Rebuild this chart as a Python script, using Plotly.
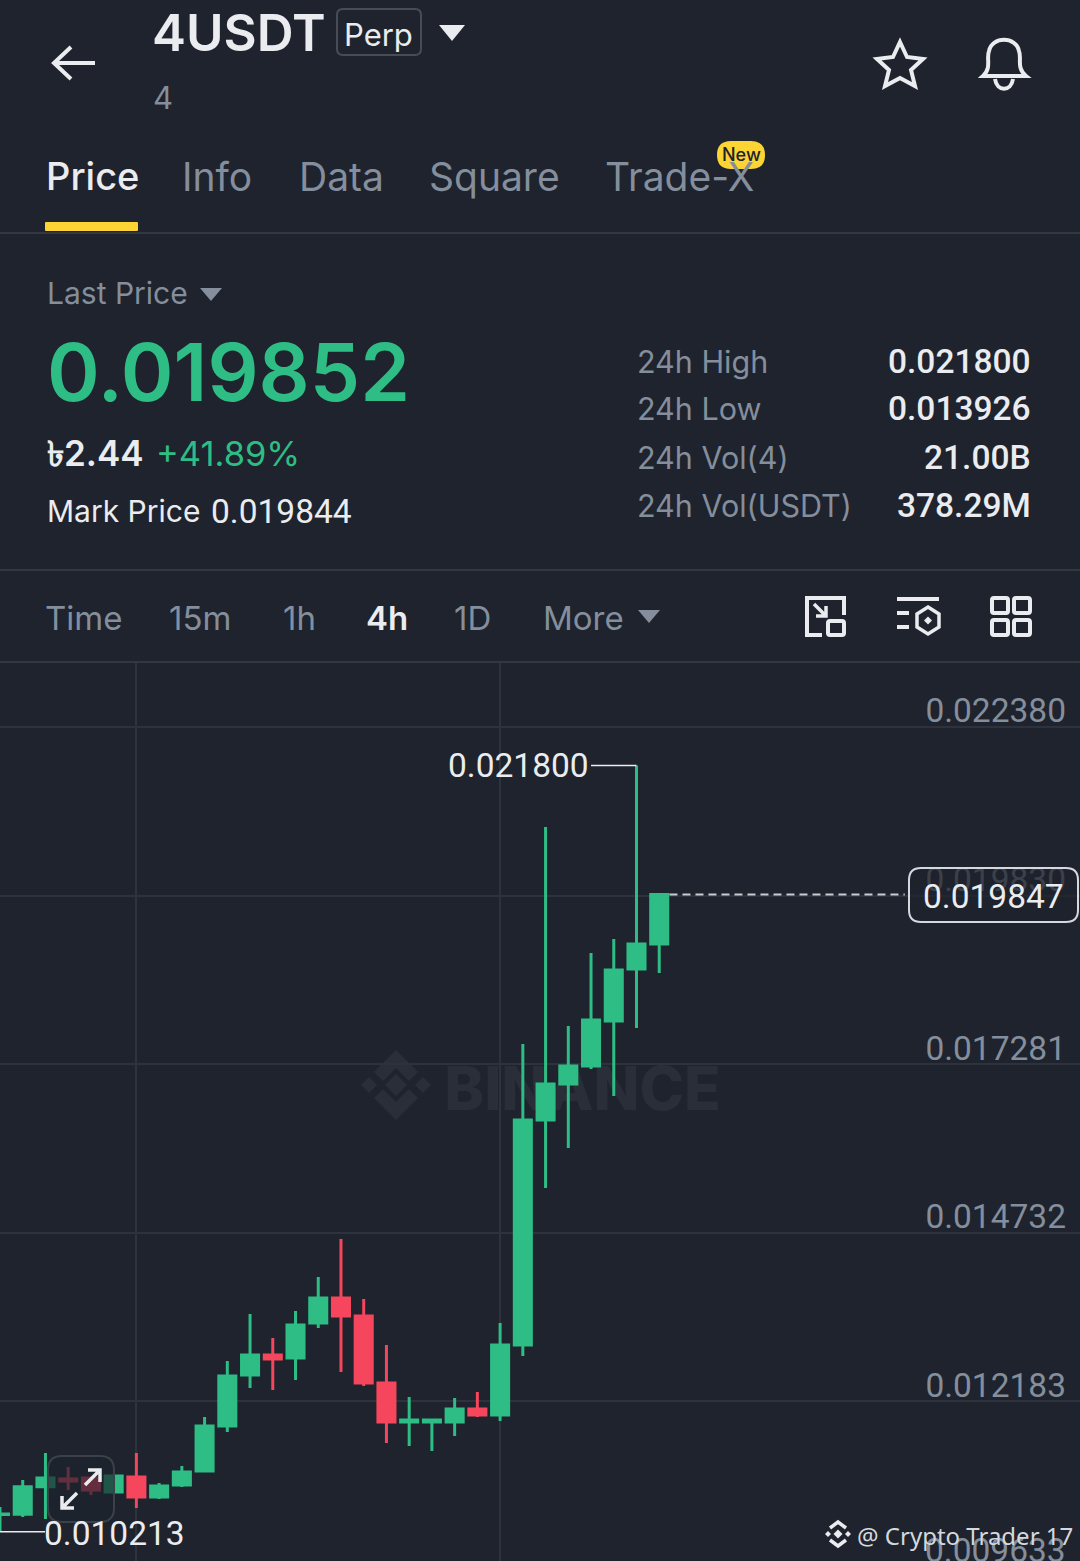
import plotly.graph_objects as go

W, H = 1080, 1561
CHART_TOP = 663

BG = "#1e232d"
GRID = "#2d323c"
GREEN = "#2ebd85"
RED = "#f6465d"
GREY = "#848e9c"
WHITE = "#eaecef"
YELLOW = "#fcd535"
FONT = "Inter"
NUM_FONT = "Roboto"

# 4h candles, left to right
candle_index = list(range(30))
open_price = [0.010475, 0.010478, 0.010895, 0.011011, 0.011027, 0.010815, 0.011042, 0.010739, 0.010921, 0.011132,
              0.011813, 0.012584, 0.012886, 0.012841, 0.013370, 0.013748, 0.013476, 0.012463, 0.011873, 0.011873,
              0.011873, 0.012070, 0.011979, 0.013038, 0.016439, 0.016983, 0.017255, 0.017935, 0.018722, 0.019100]
high_price = [0.010588, 0.010996, 0.011405, 0.011193, 0.011042, 0.011060, 0.011405, 0.010951, 0.011208, 0.011949,
              0.012796, 0.013506, 0.013143, 0.013552, 0.014066, 0.014639, 0.013733, 0.013038, 0.012251, 0.011904,
              0.012236, 0.012327, 0.013370, 0.017588, 0.020868, 0.017860, 0.018964, 0.019175, 0.021800, 0.019871]
low_price = [0.010213, 0.010437, 0.010407, 0.010845, 0.010770, 0.010810, 0.010573, 0.010709, 0.010891, 0.011117,
             0.011722, 0.012387, 0.012357, 0.012508, 0.013295, 0.012629, 0.012418, 0.011556, 0.011511, 0.011435,
             0.011662, 0.011949, 0.011888, 0.012871, 0.015410, 0.016015, 0.017210, 0.016801, 0.017830, 0.018661]
close_price = [0.010482, 0.010895, 0.011027, 0.010981, 0.010845, 0.011057, 0.010739, 0.010906, 0.011117, 0.011813,
               0.012569, 0.012886, 0.012826, 0.013340, 0.013748, 0.013476, 0.012463, 0.011873, 0.011904, 0.011904,
               0.012070, 0.011979, 0.013038, 0.016439, 0.016983, 0.017255, 0.017951, 0.018707, 0.019100, 0.019847]

price_ticks = [0.022380, 0.019830, 0.017281, 0.014732, 0.012183]
bottom_tick = "0.009633"
time_grid = [6, 22]
y_range = [0.009771, 0.023348]
x_range = [0, 47.51]

period_high = 0.021800
period_low = 0.010213
current_price = 0.019847

tabs = [("Price", 47, WHITE), ("Info", 183, GREY), ("Data", 300, GREY), ("Square", 430, GREY), ("Trade-X", 606, GREY)]
timeframes = [("Time", 46), ("15m", 170), ("1h", 284), ("4h", 367), ("1D", 455), ("More", 544)]
stat_labels = ["24h High", "24h Low", "24h Vol(4)", "24h Vol(USDT)"]
stat_values = ["0.021800", "0.013926", "21.00B", "378.29M"]
stat_rows = [361, 409, 457, 505]


def px(x):
    return x / W


def py(y):
    return 1 - y / H


def to_paper(d):
    """svg path in page pixels -> path in paper fractions"""
    out = []
    is_x = True
    for tok in d.split():
        if tok.isalpha():
            out.append(tok)
            is_x = True
        else:
            out.append(f"{px(float(tok)):.5f}" if is_x else f"{py(float(tok)):.5f}")
            is_x = not is_x
    return " ".join(out)


def rounded(x0, y0, x1, y1, r):
    return (f"M {x0 + r} {y0} L {x1 - r} {y0} Q {x1} {y0} {x1} {y0 + r} L {x1} {y1 - r} Q {x1} {y1} {x1 - r} {y1} "
            f"L {x0 + r} {y1} Q {x0} {y1} {x0} {y1 - r} L {x0} {y0 + r} Q {x0} {y0} {x0 + r} {y0} Z")


def diamond(cx, cy, r):
    return f"M {cx} {cy - r} L {cx + r} {cy} L {cx} {cy + r} L {cx - r} {cy} Z"


shapes = []
annotations = []


def icon(d, color=WHITE, width=4, fill=None, layer="above"):
    shapes.append(dict(type="path", xref="paper", yref="paper", path=to_paper(d), layer=layer,
                       line=dict(color=color, width=width), fillcolor=fill or "rgba(0,0,0,0)"))


def solid(d, color, layer="above"):
    shapes.append(dict(type="path", xref="paper", yref="paper", path=to_paper(d), layer=layer,
                       line=dict(width=0), fillcolor=color))


def label(text, x, y, size, color=WHITE, anchor="left", weight=400, family=FONT):
    # side bearing of the fonts pushes left-aligned text about 2px right
    if anchor == "left":
        x -= 2
    annotations.append(dict(text=text, x=px(x), y=py(y), xref="paper", yref="paper", xanchor=anchor, yanchor="middle",
                            showarrow=False, borderpad=0, font=dict(size=size, color=color, weight=weight, family=family)))


def hline(y):
    shapes.append(dict(type="line", xref="paper", yref="paper", x0=0, x1=1, y0=py(y), y1=py(y),
                       line=dict(color="#33383f", width=2)))


# header
icon("M 95 63 L 55 63 M 71 47 L 54 63 L 71 79", width=4)
label("4USDT", 153, 33, 51, WHITE, weight=600)
icon(rounded(337, 9, 421, 55, 6), color="#474d57", width=2)
label("Perp", 345, 34, 31, WHITE)
solid("M 439 25 L 465 25 L 452 41 Z", WHITE)
label("4", 154, 97, 31, GREY)
icon("M 900 42 L 907 57 L 923 59 L 911 70 L 915 86 L 900 78 L 885 86 L 889 70 L 877 59 L 893 57 Z", width=4)
icon("M 983 76 C 992 68 986 58 989 51 C 992 36 1016 36 1019 51 C 1022 58 1016 68 1026 76 Z "
     "M 995 79 C 997 92 1011 92 1013 79", width=4)

# tabs
for name, x, color in tabs:
    label(name, x, 176, 38 if name == "Price" else 39, color, weight=500 if name == "Price" else 400)
solid(rounded(45, 222, 138, 231, 1), YELLOW)
solid(rounded(717, 141, 765, 169, 14), YELLOW)
label("New", 741, 155, 18, "#1e2329", anchor="center", weight=500)
hline(233)

# price block
label("Last Price", 48, 293, 30, GREY)
solid("M 200 288 L 222 288 L 211 301 Z", GREY)
label("0.019852", 48, 371, 80, GREEN, weight=600)
label("৳2.44", 48, 453, 35, WHITE, weight=600)
label("+41.89%", 157, 453, 34.5, GREEN)
label("Mark Price", 48, 511, 30, WHITE)
label("0.019844", 212, 511, 33.5, WHITE, family=NUM_FONT)
for text, value, y in zip(stat_labels, stat_values, stat_rows):
    label(text, 638, y, 30.5, GREY)
    label(value, 1032, y, 33.5, WHITE, anchor="right", weight=500, family=NUM_FONT)
hline(570)

# timeframes and toolbar
for name, x in timeframes:
    label(name, x, 618, 33, WHITE if name == "4h" else GREY, weight=600 if name == "4h" else 400)
solid("M 638 610 L 660 610 L 649 623 Z", GREY)
icon("M 822 635 L 807 635 L 807 598 L 844 598 L 844 615", width=4)
icon("M 814 604 L 826 616 M 826 606 L 826 616 L 816 616", width=3.5)
icon(rounded(828, 621, 844, 635, 2), width=4)
icon("M 897 599 L 939 599 M 897 613 L 909 613 M 897 627 L 909 627", width=4)
icon("M 928 607 L 939 614 L 939 627 L 928 634 L 917 627 L 917 614 Z", width=3.5)
solid(diamond(928, 620.5, 4), WHITE)
for x0, y0 in [(992, 598), (1014, 598), (992, 620), (1014, 620)]:
    icon(rounded(x0, y0, x0 + 16, y0 + 15, 2), width=4)
hline(662)

# watermark sits under the candles
wm = "#292e39"
solid(diamond(396, 1085, 11), wm, layer="below")
solid(diamond(369, 1085, 8), wm, layer="below")
solid(diamond(423, 1085, 8), wm, layer="below")
solid("M 396 1050 L 418 1072 L 409 1081 L 396 1068 L 383 1081 L 374 1072 Z", wm, layer="below")
solid("M 396 1120 L 418 1098 L 409 1089 L 396 1102 L 383 1089 L 374 1098 Z", wm, layer="below")
shapes.append(dict(type="rect", xref="paper", yref="paper", x0=px(445), x1=px(720), y0=py(1112), y1=py(1060),
                   layer="below", line=dict(width=0), fillcolor="rgba(0,0,0,0)",
                   label=dict(text="BINANCE", font=dict(size=60, color=wm, family=FONT, weight=800),
                              textposition="middle center")))

# leader lines for the period high/low and the last price
leader = dict(color=WHITE, width=1.5)
shapes.append(dict(type="line", xref="x", yref="y", x0=26.0, x1=28, y0=period_high, y1=period_high, line=leader))
shapes.append(dict(type="line", xref="x", yref="y", x0=0, x1=1.98, y0=period_low, y1=period_low, line=leader))
shapes.append(dict(type="line", xref="x", yref="y", x0=29.45, x1=39.8, y0=current_price, y1=current_price,
                   line=dict(color="#c9ccd1", width=2, dash="8px,5px")))
annotations.append(dict(text=f"{period_high:.6f}", x=26.0, y=period_high, xref="x", yref="y", xanchor="right",
                        yanchor="middle", showarrow=False, font=dict(size=33.5, color=WHITE, family=NUM_FONT)))
label(f"{period_low:.6f}", 45, 1533, 33.5, WHITE, family=NUM_FONT)

# last price box
shapes.append(dict(type="path", xref="paper", yref="paper", path=to_paper(rounded(909, 868, 1078, 922, 12)),
                   line=dict(color="#d5d8dc", width=2), fillcolor="rgba(30,35,45,0.72)"))
label(f"{current_price:.6f}", 924, 896, 33.5, WHITE, family=NUM_FONT)

# expand button over the first candles
shapes.append(dict(type="path", xref="paper", yref="paper", path=to_paper(rounded(48, 1456, 114, 1522, 14)),
                   line=dict(color="#3b4049", width=2), fillcolor="rgba(30,35,45,0.68)"))
icon("M 85 1485 L 100 1470 M 88 1470 L 100 1470 L 100 1482", width=3.5)
icon("M 77 1493 L 62 1508 M 62 1496 L 62 1508 L 74 1508", width=3.5)

# bottom right: stray tick below the grid and the author stamp
label(bottom_tick, 1067, 1550, 33.5, GREY, anchor="right", family=NUM_FONT)
solid(diamond(838, 1534, 4.5), WHITE)
solid(diamond(828, 1534, 3), WHITE)
solid(diamond(848, 1534, 3), WHITE)
icon("M 830 1528 L 838 1522 L 846 1528", width=3.5)
icon("M 830 1540 L 838 1546 L 846 1540", width=3.5)
label("@ Crypto Trader 17", 858, 1535, 24, "#d5d8dc", family="Noto Sans")

fig = go.Figure(go.Candlestick(
    x=candle_index, open=open_price, high=high_price, low=low_price, close=close_price,
    increasing=dict(line=dict(color=GREEN, width=3), fillcolor=GREEN),
    decreasing=dict(line=dict(color=RED, width=3), fillcolor=RED),
    whiskerwidth=0, showlegend=False,
))
fig.update_layout(
    width=W, height=H, margin=dict(l=0, r=0, t=0, b=0), autosize=False,
    paper_bgcolor=BG, plot_bgcolor=BG, boxgap=0.25, boxgroupgap=0,
    shapes=shapes, annotations=annotations, showlegend=False,
    xaxis=dict(range=x_range, rangeslider=dict(visible=False), tickvals=time_grid, showticklabels=False,
               showgrid=True, gridcolor=GRID, gridwidth=2, zeroline=False, showline=False, ticks=""),
    yaxis=dict(domain=[0, 1 - CHART_TOP / H], range=y_range, side="right", tickvals=price_ticks,
               ticktext=[f"{v:.6f}" for v in price_ticks], ticklabelposition="inside top", ticklabelstandoff=11,
               ticklabelshift=7, tickfont=dict(size=33.5, color=GREY, family=NUM_FONT), showgrid=True,
               gridcolor=GRID, gridwidth=2, zeroline=False, showline=False, ticks=""),
)
# the page body has a default margin, the photo is full bleed
fig.write_html("out.html", config={"displayModeBar": False},
               post_script="document.body.style.margin='0';document.body.style.overflow='hidden';")
